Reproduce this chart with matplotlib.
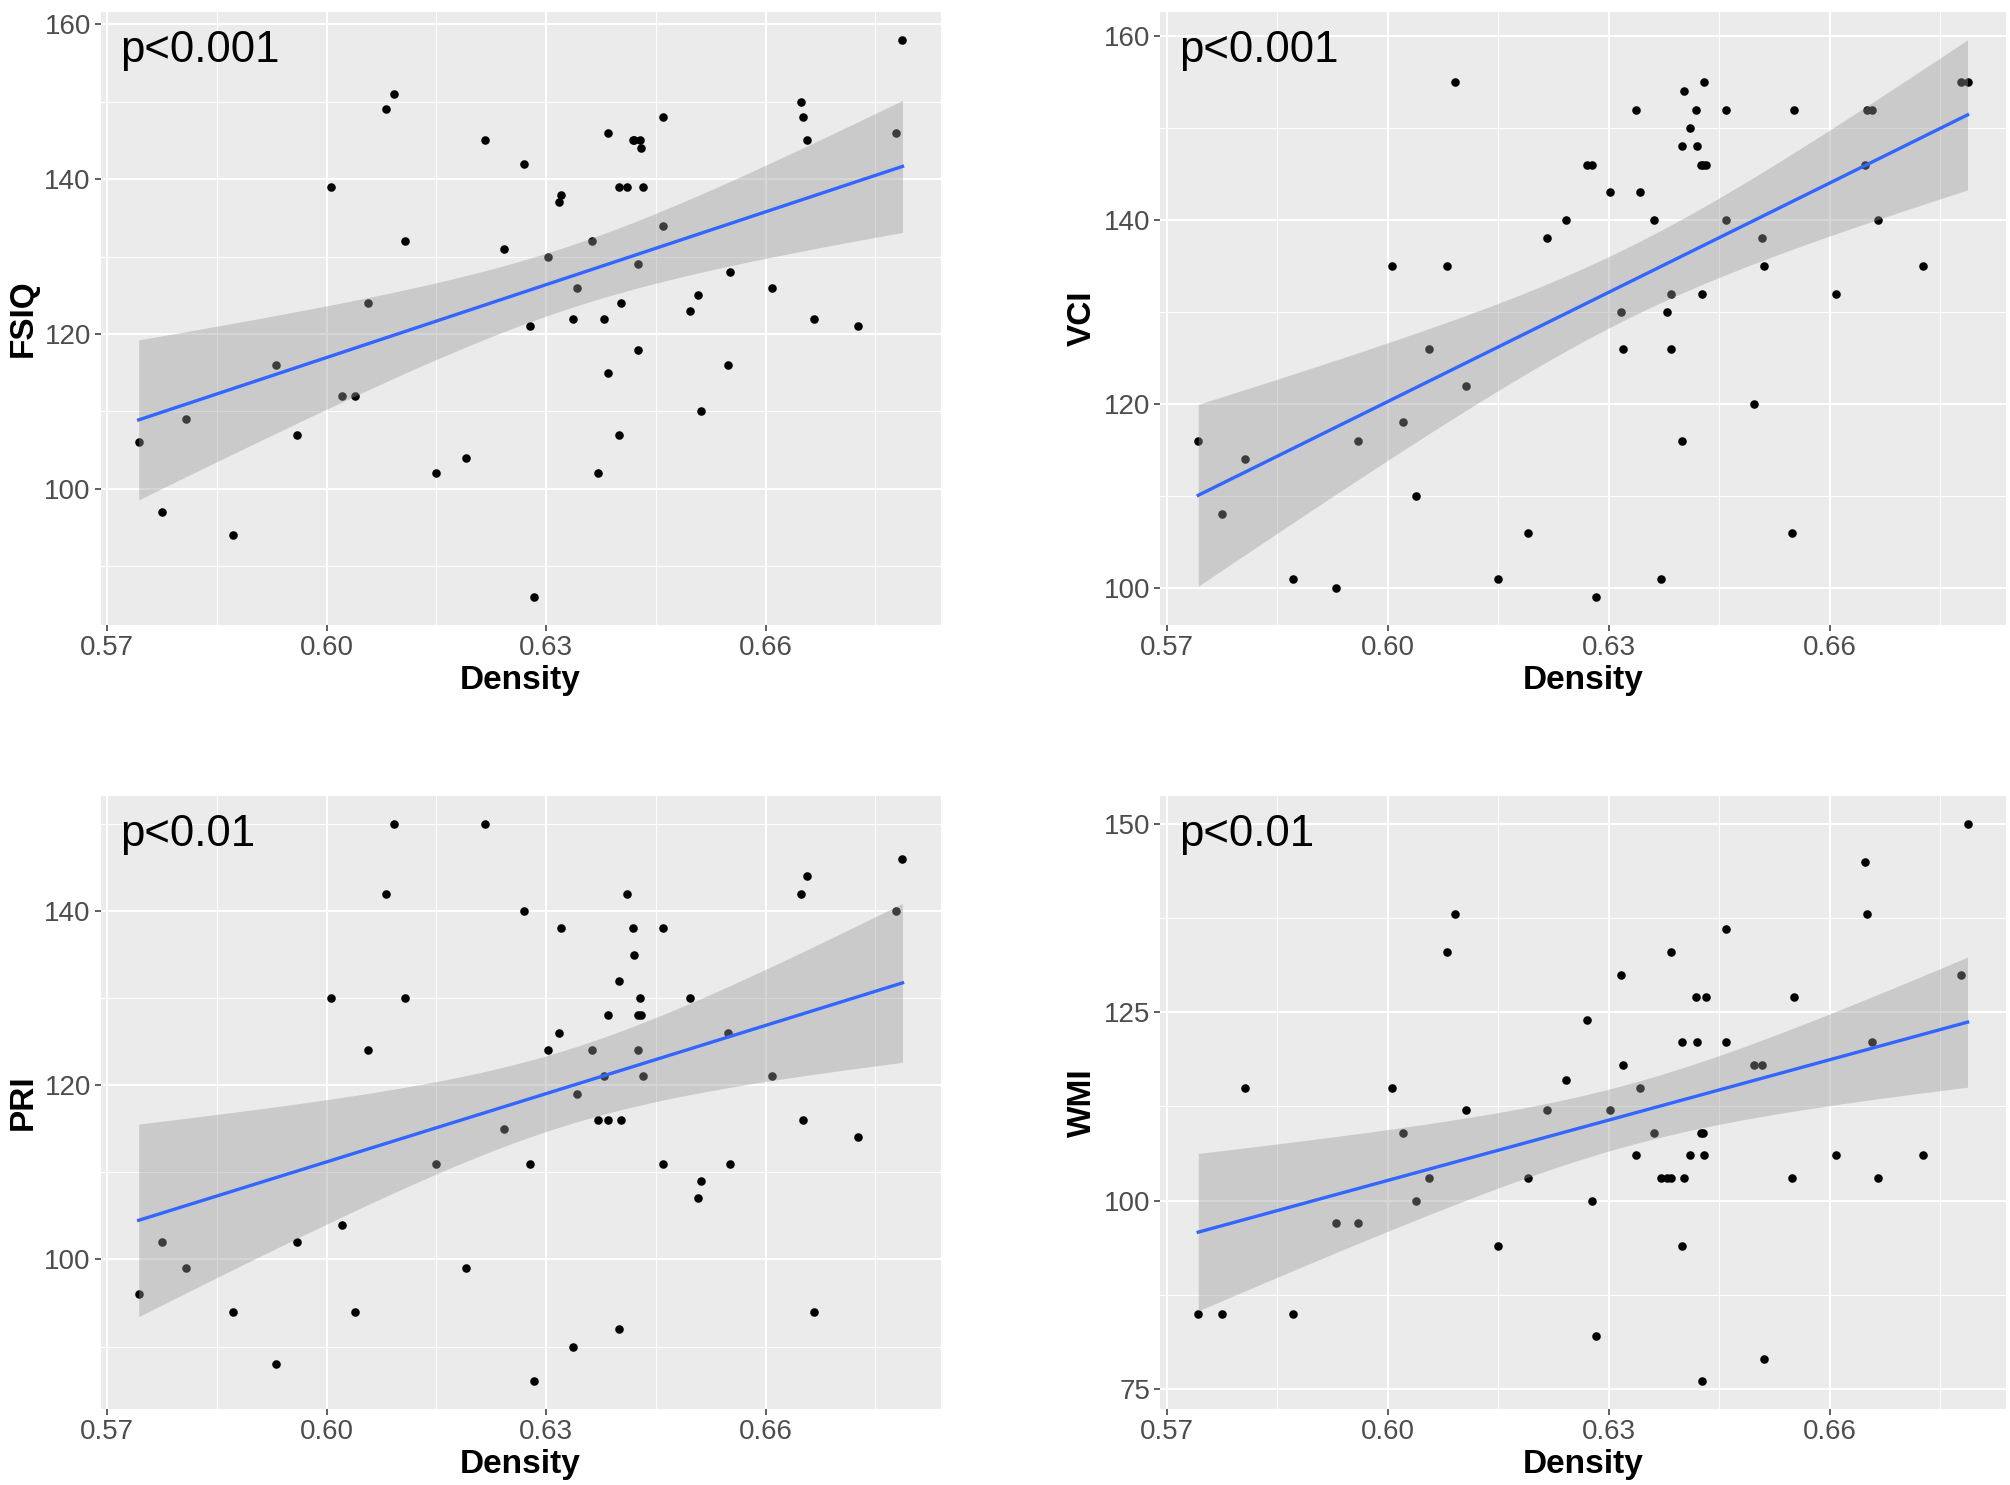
import numpy as np
import matplotlib
matplotlib.use("Agg")
import matplotlib.pyplot as plt
from matplotlib.ticker import MultipleLocator, FormatStrFormatter

plt.rcParams["font.family"] = ["Liberation Sans", "DejaVu Sans"]

# ---------------------------------------------------------------------------
# Data: one density value per subject, four scores
# ---------------------------------------------------------------------------
density = [0.5743, 0.5775, 0.5807, 0.5872, 0.5930, 0.5960, 0.6006, 0.6021, 0.6038, 0.6056,
           0.6081, 0.6092, 0.6107, 0.6150, 0.6190, 0.6216, 0.6242, 0.6270, 0.6278, 0.6283,
           0.6302, 0.6317, 0.6320, 0.6337, 0.6342, 0.6362, 0.6371, 0.6379, 0.6385, 0.6385,
           0.6399, 0.6399, 0.6402, 0.6410, 0.6419, 0.6420, 0.6425, 0.6426, 0.6428, 0.6429,
           0.6432, 0.6459, 0.6459, 0.6497, 0.6508, 0.6511, 0.6549, 0.6551, 0.6609, 0.6648,
           0.6651, 0.6657, 0.6666, 0.6726, 0.6778, 0.6787]

fsiq = [106, 97, 109, 94, 116, 107, 139, 112, 112, 124,
        149, 151, 132, 102, 104, 145, 131, 142, 121, 86,
        130, 137, 138, 122, 126, 132, 102, 122, 146, 115,
        139, 107, 124, 139, 145, 145, 129, 118, 145, 144,
        139, 148, 134, 123, 125, 110, 116, 128, 126, 150,
        148, 145, 122, 121, 146, 158]

vci = [116, 108, 114, 101, 100, 116, 135, 118, 110, 126,
       135, 155, 122, 101, 106, 138, 140, 146, 146, 99,
       143, 130, 126, 152, 143, 140, 101, 130, 132, 126,
       148, 116, 154, 150, 152, 148, 146, 132, 146, 155,
       146, 152, 140, 120, 138, 135, 106, 152, 132, 146,
       152, 152, 140, 135, 155, 155]

pri = [96, 102, 99, 94, 88, 102, 130, 104, 94, 124,
       142, 150, 130, 111, 99, 150, 115, 140, 111, 86,
       124, 126, 138, 90, 119, 124, 116, 121, 128, 116,
       132, 92, 116, 142, 138, 135, 124, 128, 130, 128,
       121, 138, 111, 130, 107, 109, 126, 111, 121, 142,
       116, 144, 94, 114, 140, 146]

wmi = [85, 85, 115, 85, 97, 97, 115, 109, 100, 103,
       133, 138, 112, 94, 103, 112, 116, 124, 100, 82,
       112, 130, 118, 106, 115, 109, 103, 103, 133, 103,
       121, 94, 103, 106, 127, 121, 109, 76, 109, 106,
       127, 136, 121, 118, 118, 79, 103, 127, 106, 145,
       138, 121, 103, 106, 130, 150]

panel_labels = ["FSIQ", "VCI", "PRI", "WMI"]
panel_pvals = ["p<0.001", "p<0.001", "p<0.01", "p<0.01"]
panel_scores = [fsiq, vci, pri, wmi]
y_steps = [20, 20, 20, 25]

T_CRIT = 2.005  # t(0.975, df = 54)


def lm_band(x, y, xs):
    """Linear fit with 95% confidence band, like geom_smooth(method='lm')."""
    n = len(x)
    slope, icpt = np.polyfit(x, y, 1)
    resid = y - (icpt + slope * x)
    s = np.sqrt(np.sum(resid ** 2) / (n - 2))
    xbar = x.mean()
    se = s * np.sqrt(1.0 / n + (xs - xbar) ** 2 / np.sum((x - xbar) ** 2))
    fit = icpt + slope * xs
    return fit, fit - T_CRIT * se, fit + T_CRIT * se


def expand(lo, hi, frac=0.05):
    pad = (hi - lo) * frac
    return lo - pad, hi + pad


fig = plt.figure(figsize=(20.1, 14.85), dpi=100)
positions = [
    [0.050, 0.579, 0.418, 0.413],
    [0.577, 0.579, 0.421, 0.413],
    [0.050, 0.051, 0.418, 0.413],
    [0.577, 0.051, 0.421, 0.413],
]

x = np.array(density)
xs = np.linspace(x.min(), x.max(), 80)

for pos, label, pval, scores, step in zip(positions, panel_labels, panel_pvals,
                                          panel_scores, y_steps):
    ax = fig.add_axes(pos)
    y = np.array(scores, dtype=float)
    fit, lo, hi = lm_band(x, y, xs)

    ax.set_facecolor("#EBEBEB")
    ax.scatter(x, y, s=38, color="black", linewidths=0, zorder=2)
    ax.fill_between(xs, lo, hi, color="#999999", alpha=0.4, linewidth=0, zorder=3)
    ax.plot(xs, fit, color="#3366FF", linewidth=2.4, zorder=4)

    ax.set_xlim(*expand(x.min(), x.max()))
    ax.set_ylim(*expand(min(y.min(), lo.min()), max(y.max(), hi.max())))

    ax.xaxis.set_major_locator(MultipleLocator(0.03))
    ax.xaxis.set_minor_locator(MultipleLocator(0.015))
    ax.xaxis.set_major_formatter(FormatStrFormatter("%.2f"))
    ax.yaxis.set_major_locator(MultipleLocator(step))
    ax.yaxis.set_minor_locator(MultipleLocator(step / 2))
    ax.yaxis.set_major_formatter(FormatStrFormatter("%d"))

    ax.grid(which="major", color="white", linewidth=1.5, zorder=0)
    ax.grid(which="minor", color="white", linewidth=0.7, zorder=0)
    ax.set_axisbelow(True)
    for sp in ax.spines.values():
        sp.set_visible(False)

    ax.tick_params(which="major", length=4, width=1.1, color="#333333",
                   labelsize=20, labelcolor="#4D4D4D", pad=3)
    ax.tick_params(which="minor", length=0)

    ax.set_xlabel("Density", fontsize=24, fontweight="bold", labelpad=3)
    ax.set_ylabel(label, fontsize=24, fontweight="bold", labelpad=4)

    ax.text(0.023, 0.918, pval, transform=ax.transAxes, fontsize=31.5,
            color="black", ha="left", va="baseline", zorder=5)

fig.savefig("out.png", dpi=100, facecolor="white")
